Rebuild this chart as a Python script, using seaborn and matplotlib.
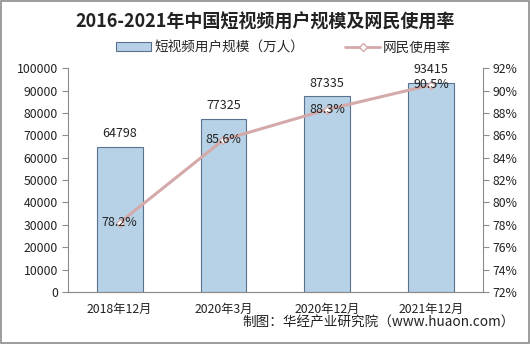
import matplotlib
matplotlib.use("Agg")
import matplotlib.pyplot as plt
import seaborn as sns
import pandas as pd
from matplotlib.ticker import FuncFormatter, MultipleLocator
from matplotlib.lines import Line2D
from matplotlib.patches import Patch

categories = ["2018年12月", "2020年3月", "2020年12月", "2021年12月"]
users = [64798, 77325, 87335, 93415]
rate = [78.2, 85.6, 88.3, 90.5]

sns.set_theme(style="white")
plt.rcParams['font.family'] = ['Noto Sans CJK SC', 'DejaVu Sans']

df = pd.DataFrame({"cat": categories, "users": users, "rate": rate})

fig = plt.figure(figsize=(5.3, 3.44), dpi=100)
ax = fig.add_axes([0.128, 0.151, 0.783, 0.651])

bar_color = "#b7d2e6"
edge_color = "#5a7190"
line_color = "#d4a9aa"
axis_color = "#8c8c8c"

sns.barplot(data=df, x="cat", y="users", ax=ax, color=bar_color, width=0.44,
            edgecolor=edge_color, linewidth=0.8, saturation=1)
ax.set_xlim(-0.5, 3.5)
ax.set_ylim(0, 100000)
ax.yaxis.set_major_locator(MultipleLocator(10000))
ax.set_xlabel("")
ax.set_ylabel("")
for i, v in enumerate(users):
    ax.text(i, v + 3000, str(v), ha="center", va="bottom", fontsize=9, color="#222222")

ax2 = ax.twinx()
sns.lineplot(x=list(range(len(categories))), y=rate, ax=ax2, color=line_color, linewidth=2.2,
             marker="D", markersize=4.5, markerfacecolor="white", markeredgecolor=line_color,
             markeredgewidth=1.0)
ax2.set_ylim(72, 92)
ax2.yaxis.set_major_locator(MultipleLocator(2))
ax2.yaxis.set_major_formatter(FuncFormatter(lambda v, p: f"{v:.0f}%"))
ax2.set_xlim(-0.5, 3.5)
for i, v in enumerate(rate):
    ax2.text(i, v, f"{v}%", ha="center", va="center", fontsize=9, color="#222222")

for a in (ax, ax2):
    for s in a.spines.values():
        s.set_color(axis_color)
        s.set_linewidth(0.8)
    a.spines["top"].set_visible(False)
    a.tick_params(axis="both", which="both", length=4, width=0.8, color=axis_color,
                  labelsize=8.8, labelcolor="#222222", direction="out", pad=3)
    a.grid(False)
ax.spines["right"].set_visible(False)
ax2.spines["left"].set_visible(False)
ax.set_xticks(range(len(categories)))
ax.set_xticklabels(categories)
ax.tick_params(axis="x", length=0, pad=8)
ax.set_xticks([-0.5, 0.5, 1.5, 2.5, 3.5], minor=True)
ax.tick_params(axis="x", which="minor", length=4, color=axis_color)

fig.text(0.5, 0.935, "2016-2021年中国短视频用户规模及网民使用率", ha="center", va="center",
         fontsize=13, fontweight="bold", color="#222222")

handles = [Patch(facecolor=bar_color, edgecolor=edge_color, linewidth=0.8),
           Line2D([0], [0], color=line_color, linewidth=2, marker="D", markersize=4.5,
                  markerfacecolor="white", markeredgecolor=line_color)]
fig.legend(handles, ["短视频用户规模（万人）", "网民使用率"], loc="center",
           bbox_to_anchor=(0.535, 0.862), ncol=2, frameon=False, fontsize=9.8,
           handlelength=2.6, handleheight=0.6, columnspacing=3.0, handletextpad=0.2)

fig.text(0.972, 0.062, "制图：华经产业研究院（www.huaon.com）", ha="right", va="center",
         fontsize=9.8, color="#222222")

fig.patches.append(plt.Rectangle((0.002, 0.003), 0.996, 0.994, transform=fig.transFigure,
                                 fill=False, edgecolor="#8c8c8c", linewidth=1.2))

fig.savefig("out.png", dpi=100)
